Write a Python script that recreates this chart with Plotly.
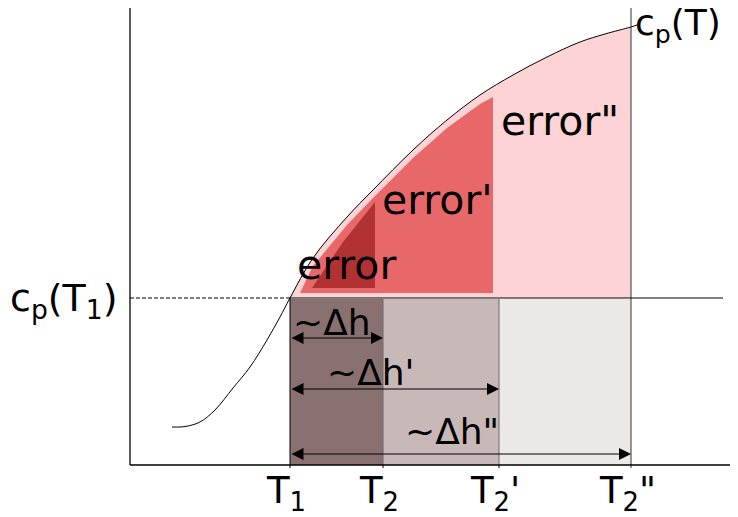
import plotly.graph_objects as go

# temperatures on the x axis (T1, T2, T2', T2'')
T_vals = [160, 253, 369, 501]
T_text = ["T<sub>1</sub>", "T<sub>2</sub>", "T<sub>2</sub>'", 'T<sub>2</sub>"']
cp_T1 = 167

# c_p(T) curve
curve_T = [42, 50, 58, 70, 85, 103, 120, 137, 150, 160, 183, 217, 243, 283, 317, 350, 383, 417, 450, 475, 501, 507]
curve_cp = [38, 38, 39, 43, 55, 77, 98, 125, 148, 167, 207, 248, 275, 315, 345, 370, 390, 408, 423, 431, 438, 440]

# error areas
err_mid_T = [170, 183, 217, 243, 283, 317, 350, 363, 363]
err_mid_cp = [172, 199, 240, 267, 307, 337, 361, 368, 172]
err_dark_T = [182, 213, 245, 245]
err_dark_cp = [177, 223, 263, 177]

# labels
err_labels = ["error", "error'", 'error"']
err_label_T = [216, 307, 430]
err_label_cp = [200, 265, 344]
dh_labels = ["~Δh", "~Δh'", '~Δh"']
dh_label_T = [202, 241, 322]
dh_label_cp = [143, 93, 34]
dh_arrow_cp = [127, 76, 11]

box_colors = ["#8a7171", "#c8b8b8", "#ede8e8"]
FONT = "DejaVu Sans"

fig = go.Figure()

# light pink area under the curve, T1 .. T2''
sel = [i for i, t in enumerate(curve_T) if T_vals[0] <= t <= T_vals[3]]
fig.add_trace(go.Scatter(x=[T_vals[0], T_vals[3]], y=[cp_T1, cp_T1], mode="lines",
                         line=dict(width=0), hoverinfo="skip"))
fig.add_trace(go.Scatter(x=[curve_T[i] for i in sel], y=[curve_cp[i] for i in sel],
                         mode="lines", line=dict(width=0, shape="spline"),
                         fill="tonexty", fillcolor="#fdd3d5", hoverinfo="skip"))

fig.add_trace(go.Scatter(x=err_mid_T, y=err_mid_cp, mode="lines", line=dict(width=0),
                         fill="toself", fillcolor="#e8686a", hoverinfo="skip"))
fig.add_trace(go.Scatter(x=err_dark_T, y=err_dark_cp, mode="lines", line=dict(width=0),
                         fill="toself", fillcolor="#b23234", hoverinfo="skip"))

# c_p(T) curve
fig.add_trace(go.Scatter(x=curve_T, y=curve_cp, mode="lines",
                         line=dict(color="black", width=1, shape="spline"), hoverinfo="skip"))

# enthalpy boxes
for i in range(3):
    fig.add_shape(type="rect", x0=T_vals[i], x1=T_vals[i + 1], y0=0, y1=cp_T1 - 1,
                  fillcolor=box_colors[i], line_width=0, layer="below")
for t in T_vals[1:3]:
    fig.add_shape(type="line", x0=t, x1=t, y0=0, y1=cp_T1 - 1, line=dict(color="#6a6a6a", width=1))
fig.add_shape(type="line", x0=T_vals[0], x1=T_vals[0], y0=-3, y1=cp_T1, line=dict(color="black", width=1))
fig.add_shape(type="line", x0=T_vals[3], x1=T_vals[3], y0=-3, y1=470, line=dict(color="#333", width=1))
for t in T_vals[1:3]:
    fig.add_shape(type="line", x0=t, x1=t, y0=-3, y1=0, line=dict(color="black", width=1))

# axes
fig.add_shape(type="line", x0=0, x1=0, y0=0, y1=459, line=dict(color="black", width=1.3))
fig.add_shape(type="line", x0=0, x1=603, y0=0, y1=0, line=dict(color="black", width=1.3))
# c_p(T1) level
fig.add_shape(type="line", x0=0, x1=T_vals[0], y0=cp_T1, y1=cp_T1,
              line=dict(color="black", width=1, dash="4px,2px"))
fig.add_shape(type="line", x0=T_vals[0], x1=593, y0=cp_T1, y1=cp_T1, line=dict(color="black", width=1))

# arrows and labels
for k in range(3):
    fig.add_annotation(x=T_vals[k + 1], y=dh_arrow_cp[k], ax=T_vals[0], ay=dh_arrow_cp[k],
                       xref="x", yref="y", axref="x", ayref="y", text="", showarrow=True,
                       arrowhead=2, arrowside="end+start", arrowsize=2.4, arrowwidth=1,
                       arrowcolor="black", standoff=0, startstandoff=0)
    fig.add_annotation(x=dh_label_T[k], y=dh_label_cp[k], text=dh_labels[k], showarrow=False,
                       font=dict(family=FONT, size=36, color="black"))
    fig.add_annotation(x=err_label_T[k], y=err_label_cp[k], text=err_labels[k], showarrow=False,
                       font=dict(family=FONT, size=41, color="black"))

# x tick labels (below the plot area)
for t, lab in zip(T_vals, T_text):
    fig.add_annotation(x=t, xshift=-4, y=0, yref="paper", yshift=1, text=lab,
                       showarrow=False, yanchor="top",
                       font=dict(family=FONT, size=37, color="black"))

fig.add_annotation(x=-122, y=165, text="c<sub>p</sub>(T<sub>1</sub>)", showarrow=False,
                   xanchor="left", font=dict(family=FONT, size=38, color="black"))
fig.add_annotation(x=503, y=440, text="c<sub>p</sub>(T)", showarrow=False,
                   xanchor="left", font=dict(family=FONT, size=36, color="black"))

# page adds an 8px body margin, so the figure is 8px smaller than the window
fig.update_layout(
    width=730, height=509, margin=dict(l=0, r=0, t=0, b=49),
    plot_bgcolor="white", paper_bgcolor="white", showlegend=False,
    xaxis=dict(range=[-122, 608], showgrid=False, zeroline=False, showline=False,
               showticklabels=False, ticks=""),
    yaxis=dict(range=[-3, 457], showgrid=False, zeroline=False, showline=False,
               showticklabels=False, ticks=""),
)

fig.write_html("out.html")
